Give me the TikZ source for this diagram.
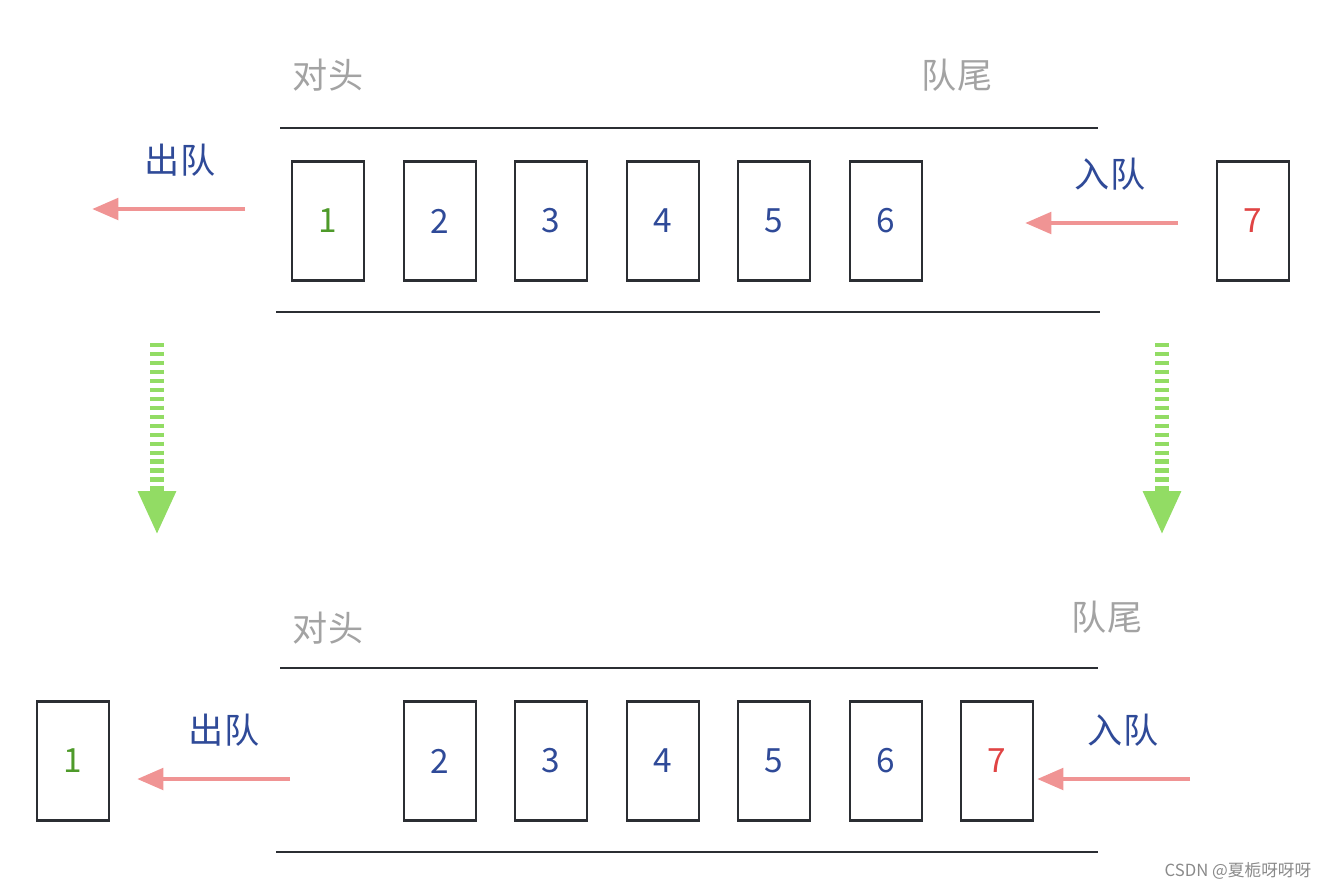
\documentclass[tikz,border=0pt]{standalone}
\usepackage{fontspec}
\setmainfont{Noto Sans CJK SC}
\usetikzlibrary{arrows.meta}
\definecolor{qblue}{HTML}{2F4A98}
\definecolor{qgreen}{HTML}{4E9A2A}
\definecolor{qred}{HTML}{E04444}
\definecolor{qpink}{HTML}{F09494}
\definecolor{qlime}{HTML}{92DC64}
\definecolor{qgray}{HTML}{A3A3A3}
\definecolor{qline}{HTML}{2B2E33}
\tikzset{
  qbox/.style={draw=qline, line width=1.2pt, minimum width=1.44cm,
    minimum height=2.38cm, inner sep=0pt, text=qblue,
    font=\fontsize{19}{22}\selectfont},
  qrail/.style={draw=qline, line width=1.1pt},
  qtag/.style={text=qgray, font=\fontsize{20}{24}\selectfont},
  qact/.style={text=qblue, font=\fontsize{20}{24}\selectfont},
  qpush/.style={draw=qpink, line width=2.8pt,
    -{Triangle[length=15pt, width=12pt]}},
  qmove/.style={draw=qlime, line width=8.5pt, dash pattern=on 2.4pt off 2.7pt,
    -{Triangle[length=25pt, width=20pt]}}
}
% one queue section: rails at y=#1 and y=#2
\newcommand{\rails}[3]{
\draw[qrail] (280, #1) -- (1098, #1);
\draw[qrail] (276, #2) -- (#3, #2);
}
\begin{document}
\begin{tikzpicture}[x=0.02cm, y=-0.02cm]
\useasboundingbox (0, 0) rectangle (1326, 890);

% before
\node[qtag] (head1) at (328, 75) {对头};
\node[qtag] (tail1) at (957, 75) {队尾};
\rails{128}{312}{1100}
\node[qbox, text=qgreen] (a1) at (328, 221) {1};
\node[qbox] (a2) at (440, 221) {2};
\node[qbox] (a3) at (551, 221) {3};
\node[qbox] (a4) at (663, 221) {4};
\node[qbox] (a5) at (774, 221) {5};
\node[qbox] (a6) at (886, 221) {6};
\node[qbox, text=qred] (a7) at (1253, 221) {7};
\node[qact] (out1) at (180, 160) {出队};
\node[qact] (in1) at (1110, 174) {入队};
\coordinate (o1s) at (245, 209);
\coordinate (o1e) at (92, 209);
\coordinate (i1s) at (1178, 223);
\coordinate (i1e) at (1025, 223);
\draw[qpush] (o1s) -- (o1e);
\draw[qpush] (i1s) -- (i1e);

% step down
\coordinate (g1s) at (157, 343);
\coordinate (g1e) at (157, 535);
\coordinate (g2s) at (1162, 343);
\coordinate (g2e) at (1162, 535);
\draw[qmove] (g1s) -- (g1e);
\draw[qmove] (g2s) -- (g2e);

% after
\node[qtag] (head2) at (328, 628) {对头};
\node[qtag] (tail2) at (1107, 617) {队尾};
\rails{668}{852}{1098}
\node[qbox, text=qgreen] (b1) at (73, 761) {1};
\node[qbox] (b2) at (440, 761) {2};
\node[qbox] (b3) at (551, 761) {3};
\node[qbox] (b4) at (663, 761) {4};
\node[qbox] (b5) at (774, 761) {5};
\node[qbox] (b6) at (886, 761) {6};
\node[qbox, text=qred] (b7) at (997, 761) {7};
\node[qact] (out2) at (224, 730) {出队};
\node[qact] (in2) at (1123, 730) {入队};
\coordinate (o2s) at (290, 779);
\coordinate (o2e) at (137, 779);
\coordinate (i2s) at (1190, 779);
\coordinate (i2e) at (1037, 779);
\draw[qpush] (o2s) -- (o2e);
\draw[qpush] (i2s) -- (i2e);

\node[text=qgray!85!black, font=\fontsize{9.5}{11}\selectfont] (mark) at (1238, 871) {CSDN @夏栀呀呀呀};
\end{tikzpicture}
\end{document}
